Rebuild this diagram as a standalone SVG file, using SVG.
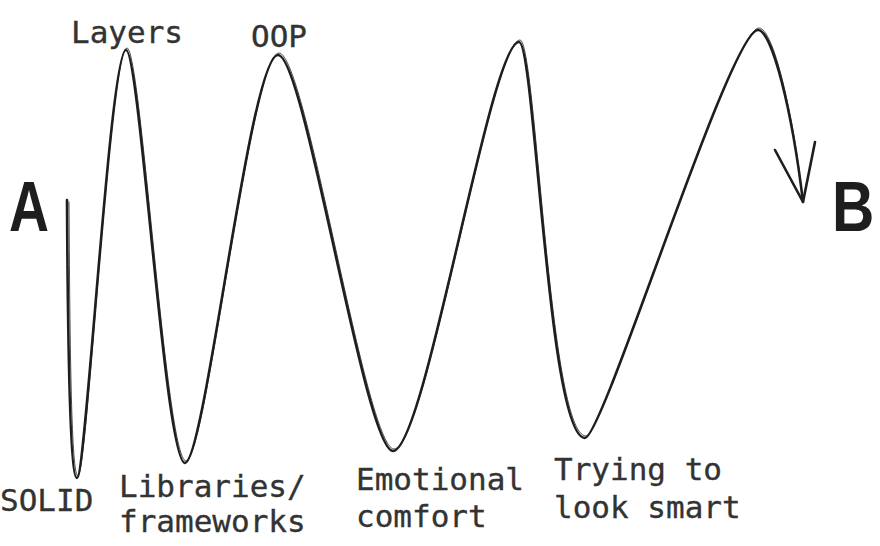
<svg xmlns="http://www.w3.org/2000/svg" width="880" height="546" viewBox="0 0 880 546">
  <style>
    .lbl { font-family: "DejaVu Sans Mono", "Liberation Mono", monospace; font-size: 31px; fill: #333333; stroke: #333333; stroke-width: 0.35px; }
    .end { font-family: "Liberation Sans", Arial, sans-serif; font-size: 71px; font-weight: bold; fill: #1e1e1e; }
    .wave { fill: none; stroke: #1e1e1e; stroke-width: 2.6; stroke-linecap: round; stroke-linejoin: round; }
    .wave2 { fill: none; stroke: #1e1e1e; stroke-width: 1; stroke-linecap: round; stroke-linejoin: round; opacity: 0.8; }
  </style>
  <rect width="880" height="546" fill="#ffffff"/>

  <g id="connectors">
    <path class="wave" d="M67,200 C68,380 71,478 77,478 C86,478 110,50 126,50 C140,50 165,463 185,463 C205,463 250,55 278,55 C305,55 365,451 393,451 C425,451 490,42 519,42 C535,42 548,438 585,438 C603,438 730,30 758,30 C772,30 792,110 803,202"/>
    <path class="wave2" d="M69,202 C70,380 72,476 78,476 C87,476 110,48 127,48 C141,48 166,461 186,461 C206,461 251,53 279,53 C306,53 366,449 394,449 C426,449 491,40 520,40 C536,40 549,436 586,436 C604,436 731,28 759,28 C773,28 793,110 803,202"/>
    <path class="wave" d="M775,150 L803,202 L815,142"/>
  </g>

  <g id="node-A">
    <text class="end" transform="translate(9,231) scale(0.78,1)">A</text>
  </g>
  <g id="node-B">
    <text class="end" transform="translate(832,231) scale(0.825,1)">B</text>
  </g>

  <g id="node-solid">
    <text class="lbl" x="0" y="511">SOLID</text>
  </g>
  <g id="node-layers">
    <text class="lbl" x="71" y="43">Layers</text>
  </g>
  <g id="node-libraries">
    <text class="lbl" x="119" y="497">Libraries/</text>
    <text class="lbl" x="119" y="532">frameworks</text>
  </g>
  <g id="node-oop">
    <text class="lbl" x="251" y="47">OOP</text>
  </g>
  <g id="node-emotional">
    <text class="lbl" x="356" y="490">Emotional</text>
    <text class="lbl" x="356" y="527">comfort</text>
  </g>
  <g id="node-trying">
    <text class="lbl" x="554" y="480">Trying to</text>
    <text class="lbl" x="554" y="518">look smart</text>
  </g>
</svg>
